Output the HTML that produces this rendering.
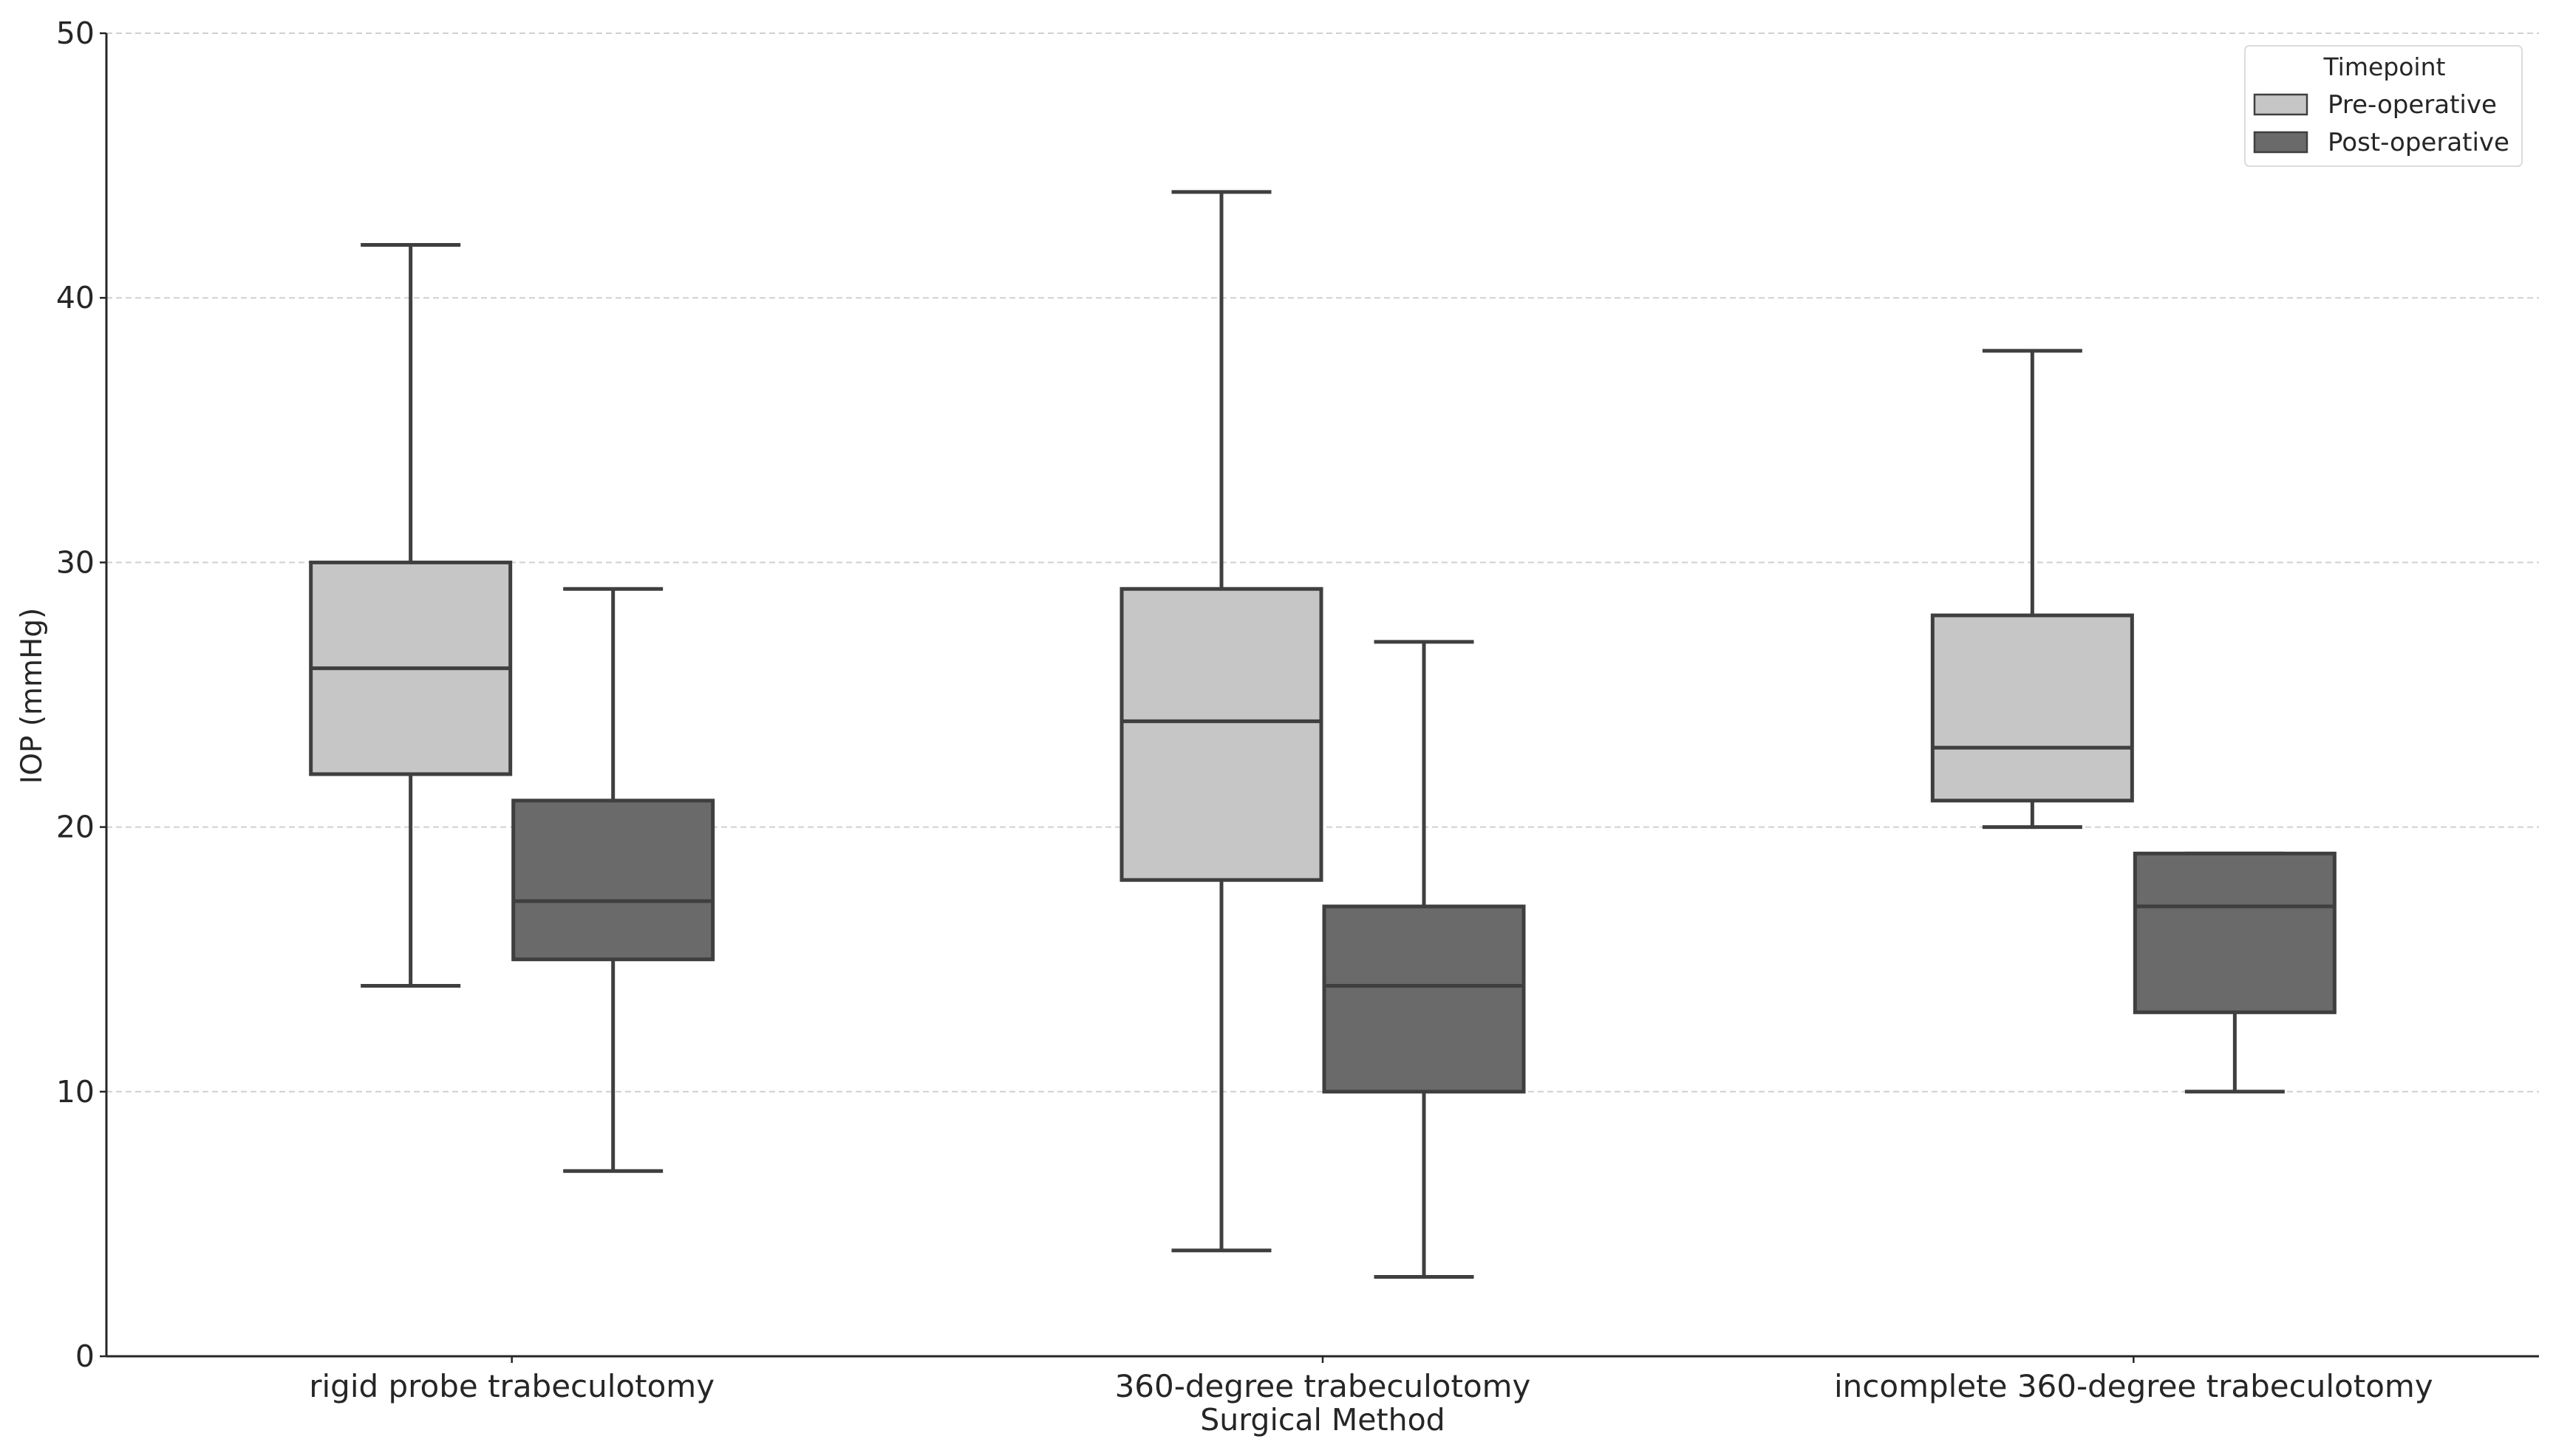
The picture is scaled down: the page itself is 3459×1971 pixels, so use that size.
<!DOCTYPE html>
<html><head><meta charset="utf-8"><style>
html,body{margin:0;padding:0;background:#fff;}
svg{display:block;font-family:"DejaVu Sans","Liberation Sans",sans-serif;}
</style></head><body>
<svg id="chart" width="3459" height="1971" viewBox="0 0 3459 1971" xmlns="http://www.w3.org/2000/svg">
<g id="grid"></g>
<g id="boxes"></g>
<g id="axes"></g>
<text x="0" y="0" transform="translate(56,942) rotate(-90)" text-anchor="middle" font-size="39" fill="#262626">IOP (mmHg)</text>
<text x="1790" y="1936" text-anchor="middle" font-size="41" fill="#262626">Surgical Method</text>
<g>
<rect x="3038" y="62" width="375" height="163" rx="6" fill="#fff" stroke="#dcdcdc" stroke-width="2"/>
<text x="3227" y="102" text-anchor="middle" font-size="33" fill="#262626">Timepoint</text>
<rect x="3051" y="128" width="71" height="27" fill="#c6c6c6" stroke="#3f3f3f" stroke-width="2.5"/>
<text x="3150" y="153" font-size="34" fill="#262626">Pre-operative</text>
<rect x="3051" y="179" width="71" height="27" fill="#6a6a6a" stroke="#3f3f3f" stroke-width="2.5"/>
<text x="3150" y="204" font-size="34" fill="#262626">Post-operative</text>
</g>
</svg>
<script>
const categories = ["rigid probe trabeculotomy", "360-degree trabeculotomy", "incomplete 360-degree trabeculotomy"];
const preWhiskerLow = [14, 4, 20];
const preQ1 = [22, 18, 21];
const preMedian = [26, 24, 23];
const preQ3 = [30, 29, 28];
const preWhiskerHigh = [42, 44, 38];
const postWhiskerLow = [7, 3, 10];
const postQ1 = [15, 10, 13];
const postMedian = [17.2, 14, 17];
const postQ3 = [21, 17, 19];
const postWhiskerHigh = [29, 27, 19];
const yTicks = [0, 10, 20, 30, 40, 50];

const NS = "http://www.w3.org/2000/svg";
const X0 = 144, X1 = 3436, Y0 = 1836, Y50 = 45;
const yScale = v => Y0 - (v / 50) * (Y0 - Y50);
const groupW = (X1 - X0) / categories.length;
const xCenter = i => X0 + groupW * (i + 0.5);
const boxW = 270;
function mk(tag, attrs, parent) {
  const e = document.createElementNS(NS, tag);
  for (const k in attrs) e.setAttribute(k, attrs[k]);
  parent.appendChild(e);
  return e;
}
const grid = document.getElementById('grid');
const axes = document.getElementById('axes');
const boxes = document.getElementById('boxes');
yTicks.forEach(t => {
  const y = yScale(t);
  if (t > 0) {
    const g = mk('line', {x1: X0, x2: X1, y1: y, y2: y, stroke: '#d0d0d0', 'stroke-width': 2, 'stroke-dasharray': '8 5'}, grid);
    
    
  }
  const tk = mk('line', {x1: X0 - 9, x2: X0, y1: y, y2: y, stroke: '#262626', 'stroke-width': 2.5}, axes);
  
  
  const tl = mk('text', {x: X0 - 16, y: y + 14, 'text-anchor': 'end', 'font-size': 41, fill: '#262626'}, axes);
  tl.textContent = t;
  
  
});
const yl = mk('line', {x1: X0, x2: X0, y1: Y50, y2: Y0, stroke: '#262626', 'stroke-width': 3}, axes);


const xl = mk('line', {x1: X0, x2: X1, y1: Y0, y2: Y0, stroke: '#262626', 'stroke-width': 3}, axes);


categories.forEach((c, i) => {
  const x = xCenter(i);
  const tk = mk('line', {x1: x, x2: x, y1: Y0, y2: Y0 + 9, stroke: '#262626', 'stroke-width': 2.5}, axes);
  
  
  const tl = mk('text', {x: x, y: Y0 + 55, 'text-anchor': 'middle', 'font-size': 42, fill: '#262626'}, axes);
  tl.textContent = c;
  
  
});
function drawBox(cx, lo, q1, med, q3, hi, fill, name) {
  const g = mk('g', {}, boxes);
  
  
  const st = {stroke: '#3f3f3f', 'stroke-width': 5};
  const capW = boxW / 2;
  const w1 = mk('line', Object.assign({x1: cx, x2: cx, y1: yScale(hi), y2: yScale(q3)}, st), g);
  
  
  const w2 = mk('line', Object.assign({x1: cx, x2: cx, y1: yScale(q1), y2: yScale(lo)}, st), g);
  
  
  const c1 = mk('line', Object.assign({x1: cx - capW / 2, x2: cx + capW / 2, y1: yScale(hi), y2: yScale(hi)}, st), g);
  
  
  const c2 = mk('line', Object.assign({x1: cx - capW / 2, x2: cx + capW / 2, y1: yScale(lo), y2: yScale(lo)}, st), g);
  
  
  const r = mk('rect', Object.assign({x: cx - boxW / 2, y: yScale(q3), width: boxW, height: yScale(q1) - yScale(q3), fill: fill}, st), g);
  
  
  const m = mk('line', Object.assign({x1: cx - boxW / 2, x2: cx + boxW / 2, y1: yScale(med), y2: yScale(med)}, st), g);
  
  
}
categories.forEach((c, i) => {
  const x = xCenter(i);
  drawBox(x - 137, preWhiskerLow[i], preQ1[i], preMedian[i], preQ3[i], preWhiskerHigh[i], '#c6c6c6', 'box-pre-' + i);
  drawBox(x + 137, postWhiskerLow[i], postQ1[i], postMedian[i], postQ3[i], postWhiskerHigh[i], '#6a6a6a', 'box-post-' + i);
});
</script>
</body></html>
